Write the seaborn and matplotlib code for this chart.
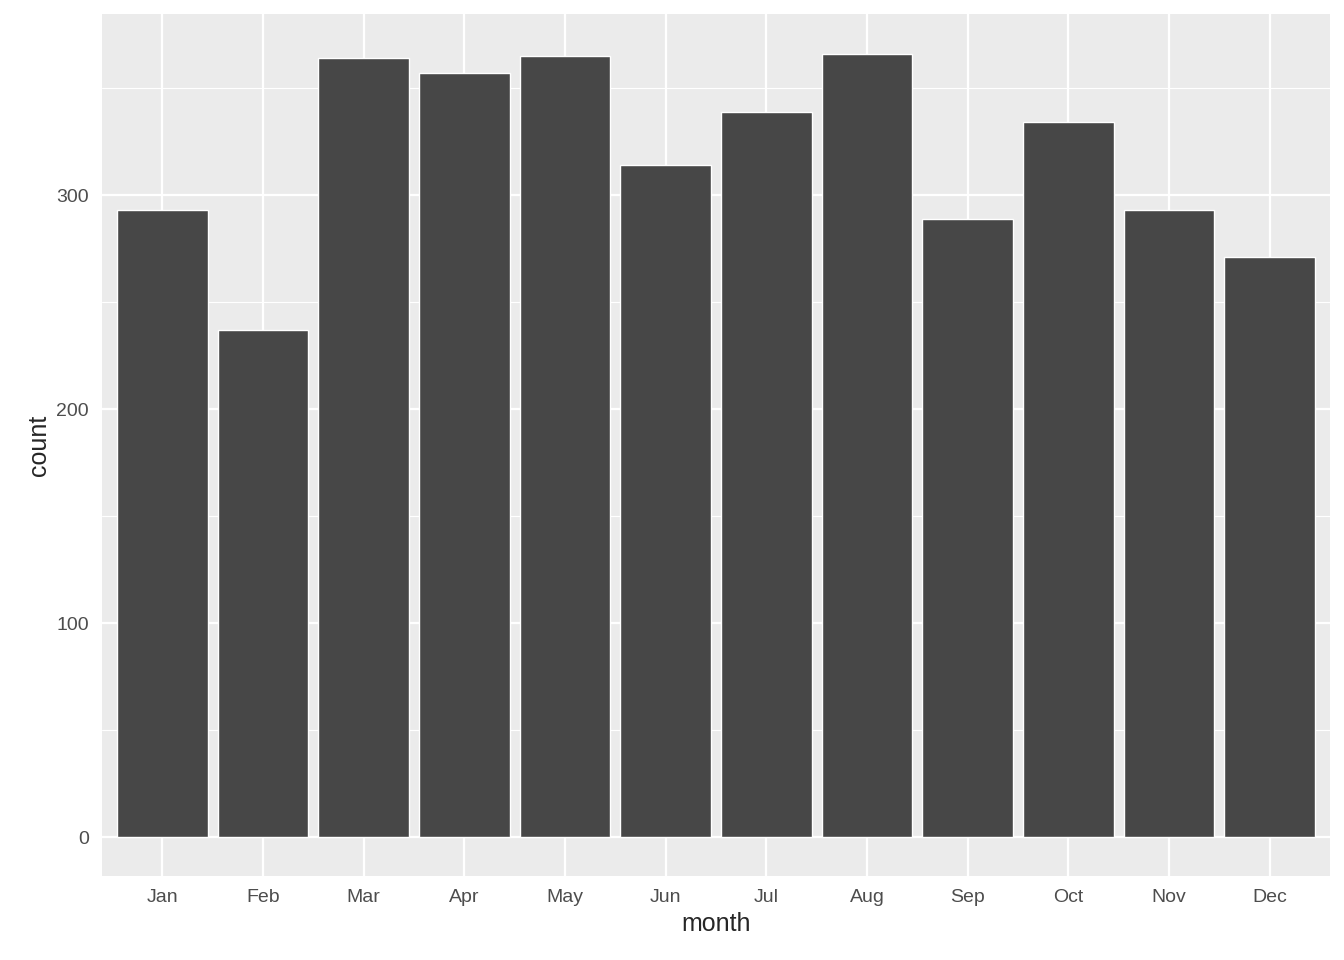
import matplotlib
matplotlib.use("Agg")
import matplotlib.pyplot as plt
import seaborn as sns
import pandas as pd

months = ["Jan", "Feb", "Mar", "Apr", "May", "Jun", "Jul", "Aug", "Sep", "Oct", "Nov", "Dec"]
counts = [293, 237, 364, 357, 365, 314, 339, 366, 289, 334, 293, 271]

df = pd.DataFrame({"month": months, "count": counts})

sns.set_theme(style="darkgrid", rc={"axes.facecolor": "#ebebeb", "grid.color": "white"})
plt.rcParams["font.family"] = ["Liberation Sans", "DejaVu Sans"]

fig = plt.figure(figsize=(13.44, 9.6), dpi=100)
ax = fig.add_axes([102 / 1344, 1 - 876 / 960, 1228 / 1344, 862 / 960])
sns.barplot(data=df, x="month", y="count", color="#474747", saturation=1, width=0.9, ax=ax)

ax.set_ylim(-18.2, 384.6)
ax.set_xlim(-0.6, 11.6)
ax.set_yticks([0, 100, 200, 300])
ax.set_yticks([50, 150, 250, 350], minor=True)
ax.grid(True, which="major", color="white", linewidth=1.6)
ax.grid(True, which="minor", color="white", linewidth=0.8)
ax.set_axisbelow(True)
for s in ax.spines.values():
    s.set_visible(False)
ax.tick_params(axis="both", which="major", length=6, color="#333333", labelsize=14, labelcolor="#4d4d4d")
ax.tick_params(axis="both", which="minor", length=0)
ax.set_xlabel("month", fontsize=18)
ax.set_ylabel("count", fontsize=18)

fig.savefig("out.png", dpi=100)
